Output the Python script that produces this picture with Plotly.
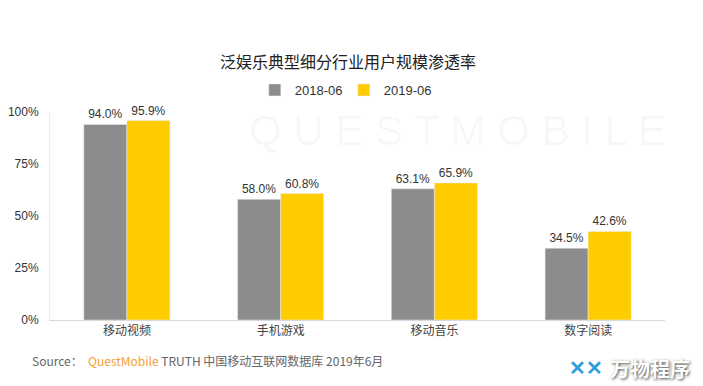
import plotly.graph_objects as go

categories = ["移动视频", "手机游戏", "移动音乐", "数字阅读"]
series_2018 = [0.940, 0.580, 0.631, 0.345]
series_2019 = [0.959, 0.608, 0.659, 0.426]
series_names = ["2018-06", "2019-06"]
tick_vals = [0, 0.25, 0.5, 0.75, 1.0]
tick_text = ["0%", "25%", "50%", "75%", "100%"]

FONT = "Noto Sans CJK SC, Liberation Sans, Arial, sans-serif"
LAT = "Liberation Sans, Arial, sans-serif"

# the page body has an 8px margin, so the figure is sized/positioned to compensate
W, H = 695, 378
L, T, R, B = 42, 104, 38, 66
PW, PH = W - L - R, H - T - B

fig = go.Figure()
fig.add_trace(go.Bar(
    x=categories, y=series_2018, name=series_names[0],
    marker=dict(color="#8c8c8c"),
    text=[f"{v*100:.1f}%" for v in series_2018], textposition="outside",
    textfont=dict(size=12, color="#333333", family=LAT),
    cliponaxis=False,
))
fig.add_trace(go.Bar(
    x=categories, y=series_2019, name=series_names[1],
    marker=dict(color="#ffcc00"),
    text=[f"{v*100:.1f}%" for v in series_2019], textposition="outside",
    textfont=dict(size=12, color="#333333", family=LAT),
    cliponaxis=False,
))

fig.update_layout(
    width=W, height=H,
    margin=dict(l=L, r=R, t=T, b=B, autoexpand=False),
    paper_bgcolor="white", plot_bgcolor="rgba(0,0,0,0)",
    barmode="group", bargap=0.44, bargroupgap=0,
    font=dict(family=FONT, size=12, color="#333333"),
    title=dict(text="泛娱乐典型细分行业用户规模渗透率", x=(348 - 8) / W, xanchor="center",
               y=1 - 54 / H, yanchor="middle", font=dict(size=16, color="#222222", family=FONT)),
    legend=dict(orientation="h", x=(340 - 8) / W, xanchor="center", y=1 - 82 / H, yref="container",
                yanchor="middle", font=dict(size=13, color="#333333", family=LAT),
                itemwidth=30, entrywidth=44, entrywidthmode="pixels", traceorder="normal"),
    showlegend=True,
    xaxis=dict(showline=True, linecolor="#d9d9d9", linewidth=1, ticks="", automargin=False,
               tickfont=dict(size=12, color="#444444")),
    yaxis=dict(range=[0, 1], tickvals=tick_vals, ticktext=tick_text, showgrid=False,
               showline=True, linecolor="#eeeeee", linewidth=1, zeroline=False, automargin=False,
               tickfont=dict(size=12, color="#333333", family=LAT),
               ticks="", ticklabelstandoff=8),
)

def px_x(x):
    return (x - 8 - L) / PW

def px_y(y):
    return (H - B - (y - 8)) / PH

fig.add_annotation(text="Q U E S T M O B I L E", xref="paper", yref="paper", x=px_x(668), y=px_y(130),
                   xanchor="right", yanchor="middle", showarrow=False,
                   font=dict(size=42, color="rgba(0,0,0,0.035)", family=LAT))

fig.add_annotation(text="Source：  <span style='color:#f7a033'>QuestMobile</span> TRUTH 中国移动互联网数据库 2019年6月",
                   xref="paper", yref="paper", x=px_x(30), y=px_y(360), xanchor="left", yanchor="middle",
                   showarrow=False, font=dict(size=12, color="#666666", family=FONT))
fig.add_annotation(text="<b>✕✕</b>", xref="paper", yref="paper", x=px_x(605), y=px_y(368),
                   xanchor="right", yanchor="middle", showarrow=False,
                   font=dict(size=20, color="#2f9fd8", family=LAT))
fig.add_annotation(text="<b>万物程序</b>", xref="paper", yref="paper", x=px_x(692), y=px_y(368),
                   xanchor="right", yanchor="middle", showarrow=False,
                   font=dict(size=20, color="#ffffff", family=FONT, shadow="1px 1px 3px #444"))

fig.write_html("out.html")
